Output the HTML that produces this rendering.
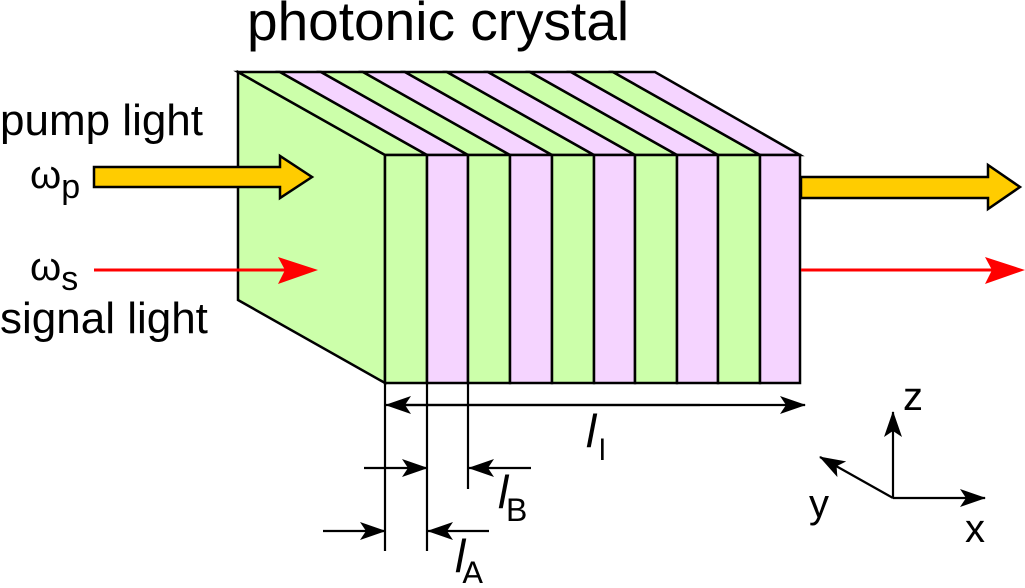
<!DOCTYPE html>
<html><head><style>body{margin:0;background:#fff}</style></head><body>
<svg width="1025" height="583" viewBox="0 0 1025 583" xmlns="http://www.w3.org/2000/svg" font-family="Liberation Sans, sans-serif">
<defs>
<marker id="ah" viewBox="0 0 26 18" refX="25" refY="9" markerWidth="26" markerHeight="18" markerUnits="userSpaceOnUse" orient="auto"><path d="M0,0 L26,9 L0,18 L6,9 Z" fill="#000"/></marker>
</defs>
<g stroke="#000" stroke-width="2.5" stroke-linejoin="miter">
<polygon points="238,72 385,155 385,383 238,300" fill="#ccffaa"/>
<polygon points="238,72 280,72 427,155 385,155" fill="#ccffaa"/>
<polygon points="280,72 321,72 468,155 427,155" fill="#f5d4ff"/>
<polygon points="321,72 363,72 510,155 468,155" fill="#ccffaa"/>
<polygon points="363,72 405,72 552,155 510,155" fill="#f5d4ff"/>
<polygon points="405,72 447,72 594,155 552,155" fill="#ccffaa"/>
<polygon points="447,72 488,72 635,155 594,155" fill="#f5d4ff"/>
<polygon points="488,72 530,72 677,155 635,155" fill="#ccffaa"/>
<polygon points="530,72 571,72 718,155 677,155" fill="#f5d4ff"/>
<polygon points="571,72 613,72 760,155 718,155" fill="#ccffaa"/>
<polygon points="613,72 655,72 800,155 760,155" fill="#f5d4ff"/>
<rect x="385" y="155" width="42" height="228" fill="#ccffaa"/>
<rect x="427" y="155" width="41" height="228" fill="#f5d4ff"/>
<rect x="468" y="155" width="42" height="228" fill="#ccffaa"/>
<rect x="510" y="155" width="42" height="228" fill="#f5d4ff"/>
<rect x="552" y="155" width="42" height="228" fill="#ccffaa"/>
<rect x="594" y="155" width="41" height="228" fill="#f5d4ff"/>
<rect x="635" y="155" width="42" height="228" fill="#ccffaa"/>
<rect x="677" y="155" width="41" height="228" fill="#f5d4ff"/>
<rect x="718" y="155" width="42" height="228" fill="#ccffaa"/>
<rect x="760" y="155" width="40" height="228" fill="#f5d4ff"/>
</g>
<polygon points="94,167 280,167 280,156 312,177 280,198 280,187 94,187" fill="#ffcc00" stroke="#000" stroke-width="2.5"/>
<polygon points="801,177 988,177 988,165 1020,187 988,209 988,198 801,198" fill="#ffcc00" stroke="#000" stroke-width="2.5"/>
<line x1="94" y1="270" x2="295" y2="270" stroke="#f00" stroke-width="3"/>
<polygon points="318,270 278,257 285,270 278,284" fill="#f00"/>
<line x1="801" y1="270" x2="1000" y2="270" stroke="#f00" stroke-width="3"/>
<polygon points="1025,270 985,257 992,270 985,284" fill="#f00"/>
<g stroke="#000" stroke-width="2.2" fill="none">
<line x1="385" y1="383" x2="385" y2="551"/>
<line x1="427" y1="383" x2="427" y2="551"/>
<line x1="468" y1="383" x2="468" y2="489"/>
<line x1="395" y1="405" x2="805" y2="405" marker-end="url(#ah)"/>
<line x1="700" y1="405" x2="386" y2="405" marker-end="url(#ah)"/>
<line x1="364" y1="468" x2="427" y2="468" marker-end="url(#ah)"/>
<line x1="531" y1="468" x2="469" y2="468" marker-end="url(#ah)"/>
<line x1="323" y1="531" x2="385" y2="531" marker-end="url(#ah)"/>
<line x1="489" y1="531" x2="428" y2="531" marker-end="url(#ah)"/>
<line x1="893" y1="498" x2="893" y2="412" marker-end="url(#ah)"/>
<line x1="893" y1="498" x2="985" y2="498" marker-end="url(#ah)"/>
<line x1="893" y1="498" x2="820" y2="457" marker-end="url(#ah)"/>
</g>
<g fill="#000">
<text x="247" y="40" font-size="55">photonic crystal</text>
<text x="0" y="135" font-size="44">pump light</text>
<text x="0" y="333" font-size="44">signal light</text>
<text x="30" y="188" font-size="40">ω<tspan font-size="34" dy="10">p</tspan></text>
<text x="30" y="280" font-size="40">ω<tspan font-size="34" dy="10">s</tspan></text>
<text x="586" y="447" font-size="46" font-style="italic">l</text><text x="599" y="460" font-size="30">l</text>
<text x="498" y="508" font-size="46" font-style="italic">l</text><text x="506" y="521" font-size="32">B</text>
<text x="455" y="572" font-size="46" font-style="italic">l</text><text x="462" y="584" font-size="32">A</text>
<text x="903" y="410" font-size="40">z</text>
<text x="965" y="542" font-size="40">x</text>
<text x="809" y="517" font-size="40">y</text>
</g>
</svg>
</body></html>
